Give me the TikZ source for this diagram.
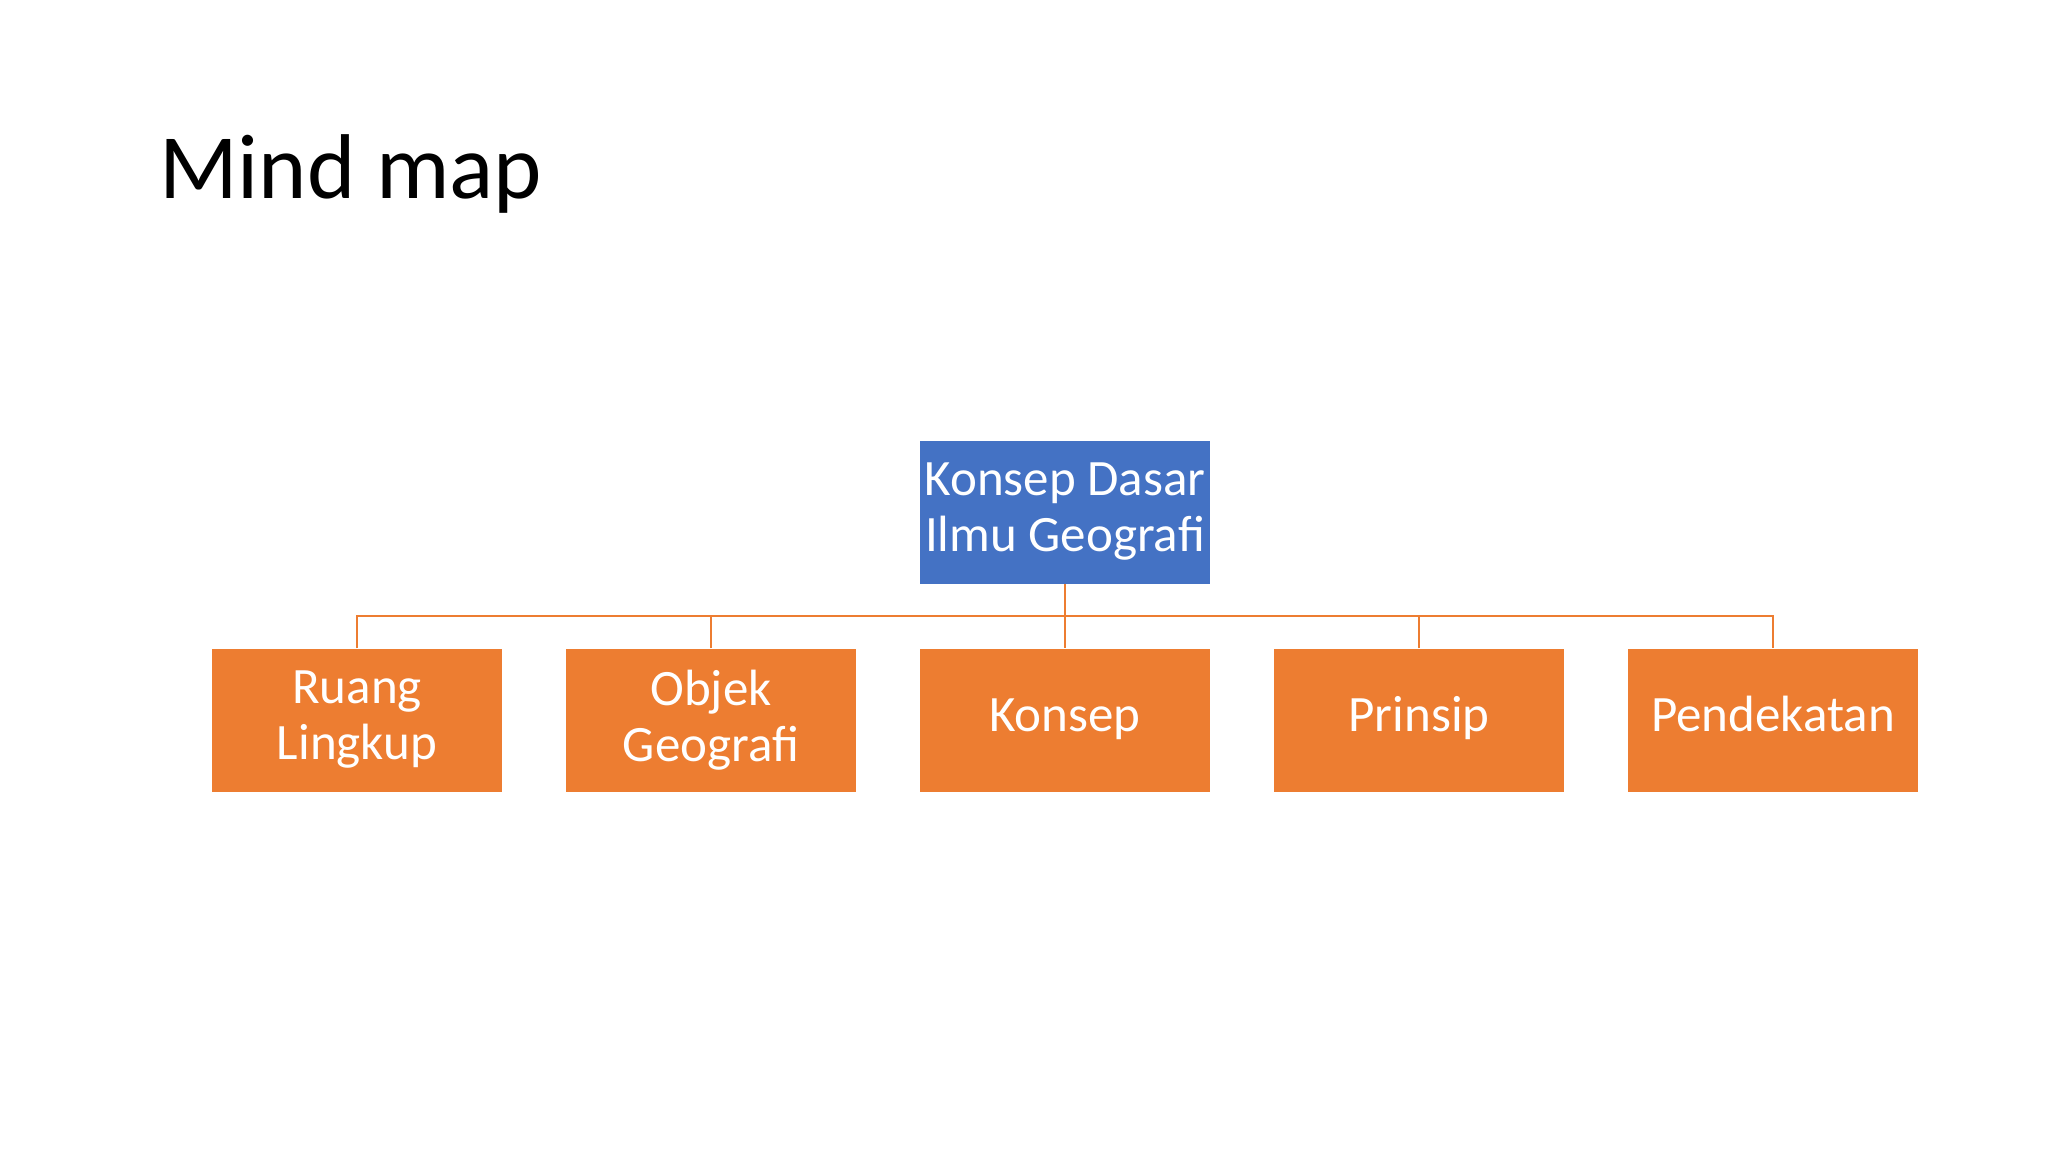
\documentclass[tikz,border=0pt]{standalone}
\usepackage{fontspec}
\setmainfont{Carlito}
\definecolor{rootblue}{HTML}{4472C4}
\definecolor{kidorange}{HTML}{ED7D31}
\begin{document}
\begin{tikzpicture}[x=1pt,y=-1pt,
  box/.style={minimum width=290pt,minimum height=143pt,inner sep=0pt,text=white,
    align=center,font=\fontsize{51}{56}\selectfont},
  rootbox/.style={box,fill=rootblue},
  kidbox/.style={box,fill=kidorange},
  link/.style={draw=kidorange,line width=2.2pt}]
\useasboundingbox[fill=white] (0,0) rectangle (2048,1152);
\node[anchor=base west,inner sep=0pt,font=\fontsize{92}{110}\selectfont] (title) at (159,198) {Mind map};
\node[rootbox] (root) at (1065,512) {Konsep Dasar\\Ilmu Geografi};
\node[kidbox] (c1) at (357,720) {Ruang\\Lingkup};
\node[kidbox] (c2) at (711,720) {Objek\\Geografi};
\node[kidbox] (c3) at (1065,720) {\strut Konsep};
\node[kidbox] (c4) at (1419,720) {\strut Prinsip};
\node[kidbox] (c5) at (1773,720) {\strut Pendekatan};
\coordinate (bus) at (1065,616);
\draw[link] (root.south) -- (c3.north);
\draw[link] (c1.north) -- (c1.north |- bus) -- (c5.north |- bus) -- (c5.north);
\draw[link] (c2.north) -- (c2.north |- bus);
\draw[link] (c4.north) -- (c4.north |- bus);
\end{tikzpicture}
\end{document}
